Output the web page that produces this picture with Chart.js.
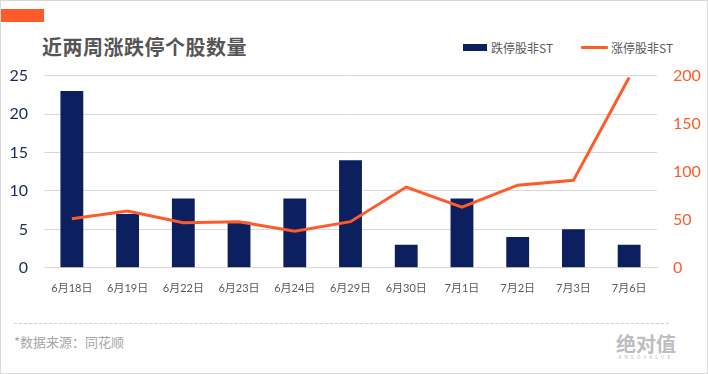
<!DOCTYPE html>
<html>
<head>
<meta charset="utf-8">
<script src="https://cdn.jsdelivr.net/npm/chart.js@4"></script>
<style>
  html, body { margin: 0; padding: 0; background: #fff; }
  #wrap {
    position: relative; width: 706px; height: 372px;
    border: 1px solid #d9d9d9; overflow: hidden;
    font-family: "Noto Sans CJK SC", sans-serif;
  }
  .tag { position: absolute; left: 0; top: 8px; width: 43px; height: 13px; background: #ff5a2a; }
  .title { position: absolute; left: 41px; top: 31px; font-size: 20px; font-weight: bold; color: #555; letter-spacing: 0.5px; }
  .legend { position: absolute; top: 36px; left: 462px; font-size: 12px; color: #595959; }
  .legend span { display: inline-block; vertical-align: middle; }
  .sw-bar { width: 24px; height: 7px; background: #0c1f5e; margin-right: 4px; }
  .sw-line { width: 27px; height: 3px; background: #ff5a2a; margin: 0 3px 0 28px; border-radius: 1px; }
  #box { position: absolute; left: 0; top: 57px; width: 706px; height: 243px; }
  .sep { position: absolute; left: 13px; right: 38px; top: 322px; border-top: 1px dashed #d0d0d0; }
  .src { position: absolute; left: 13px; top: 331px; font-size: 13px; color: #a6a6a6; }
  .logo { position: absolute; left: 615px; top: 328px; font-size: 20px; color: #bdbdbd; font-weight: bold; }
  .logo small { display: block; font-size: 5px; letter-spacing: 3px; margin-top: -5px; text-align: center; font-weight: normal; }
</style>
</head>
<body>
<div id="wrap">
  <div class="tag"></div>
  <div class="title">近两周涨跌停个股数量</div>
  <div class="legend">
    <span class="sw-bar"></span><span>跌停股非ST</span><span class="sw-line"></span><span>涨停股非ST</span>
  </div>
  <div id="box"><canvas id="chart"></canvas></div>
  <div class="sep"></div>
  <div class="src">*数据来源：同花顺</div>
  <div class="logo">绝对值<small>ABSOVALUE</small></div>
</div>
<script>
// dates
const labels = ['6月18日', '6月19日', '6月22日', '6月23日', '6月24日', '6月29日', '6月30日', '7月1日', '7月2日', '7月3日', '7月6日'];
// limit-down stocks (non ST)
const limitDown = [23, 7, 9, 6, 9, 14, 3, 9, 4, 5, 3];
// limit-up stocks (non ST)
const limitUp = [51, 59, 47, 48, 38, 48, 84, 63, 86, 91, 198];

const numFont = 'Lato, "Noto Sans CJK SC", sans-serif';

new Chart(document.getElementById('chart'), {
  data: {
    labels: labels,
    datasets: [
      {
        type: 'line',
        label: '涨停股非ST',
        data: limitUp,
        yAxisID: 'y2',
        borderColor: '#ff5a2a',
        borderWidth: 3,
        pointRadius: 0,
        tension: 0,
        order: 0
      },
      {
        type: 'bar',
        label: '跌停股非ST',
        data: limitDown,
        yAxisID: 'y',
        backgroundColor: '#0c1f5e',
        barPercentage: 0.41,
        categoryPercentage: 1,
        order: 1
      }
    ]
  },
  options: {
    responsive: true,
    maintainAspectRatio: false,
    animation: false,
    layout: { padding: { top: 0, left: 0, right: 0, bottom: 0 } },
    plugins: { legend: { display: false }, tooltip: { enabled: false } },
    scales: {
      x: {
        grid: { display: false },
        border: { color: '#d9d9d9' },
        ticks: { color: '#595959', font: { family: numFont, size: 11 }, padding: 6 }
      },
      y: {
        position: 'left',
        min: 0, max: 25,
        ticks: { stepSize: 5, color: '#1a2a5e', font: { family: numFont, size: 16 }, padding: 8 },
        grid: { color: '#d9d9d9', drawTicks: true, tickColor: 'rgba(0,0,0,0)' },
        border: { display: false },
        afterFit: (s) => { s.width = 43; }
      },
      y2: {
        position: 'right',
        min: 0, max: 200,
        ticks: { stepSize: 50, color: '#ff5a2a', font: { family: numFont, size: 16 }, padding: 8 },
        grid: { display: false },
        border: { display: false },
        afterFit: (s) => { s.width = 50; }
      }
    }
  }
});
</script>
</body>
</html>
